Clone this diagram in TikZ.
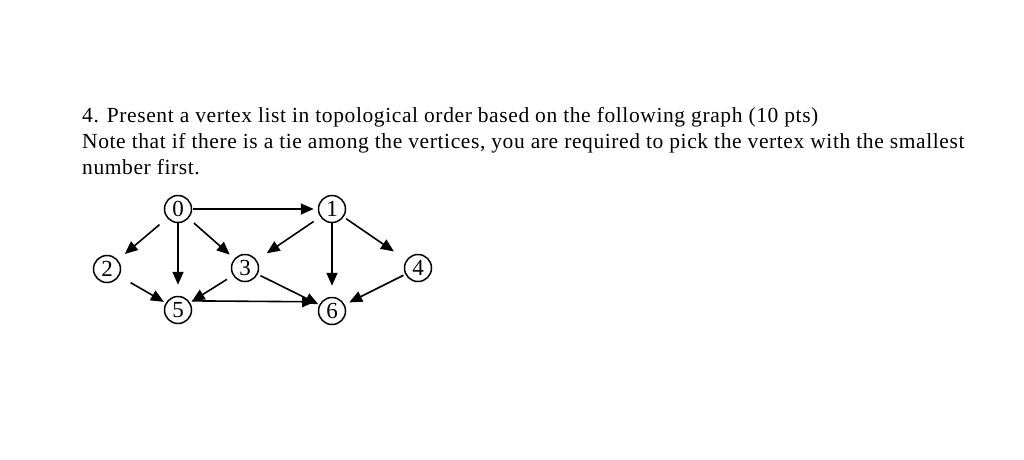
\documentclass[tikz,border=0pt]{standalone}
\usepackage{fontspec}
\setmainfont{Liberation Serif}
\newfontfamily\spaced[LetterSpace=2.8]{Liberation Serif}
\usetikzlibrary{arrows.meta}
\begin{document}
\begin{tikzpicture}[x=1pt,y=-1pt,
  txt/.style={anchor=base west,inner sep=0pt,font=\spaced\fontsize{21.5}{26}\selectfont},
  vtx/.style={circle,draw,line width=1.5pt,minimum size=27pt,inner sep=0pt,font=\fontsize{23}{26}\selectfont},
  edge/.style={line width=1.6pt,-{Triangle[length=13pt,width=11pt]}}]
\useasboundingbox (0,0) rectangle (1024,459);
\node[txt] (l1) at (82,122) {4. Present a vertex list in topological order based on the following graph (10 pts)};
\node[txt] (l2) at (82,148) {Note that if there is a tie among the vertices, you are required to pick the vertex with the smallest};
\node[txt] (l3) at (82,174) {number first.};
\node[vtx] (v0) at (178,209) {0};
\node[vtx] (v1) at (332,209) {1};
\node[vtx] (v2) at (107,269) {2};
\node[vtx] (v3) at (245,268) {3};
\node[vtx] (v4) at (418,268) {4};
\node[vtx] (v5) at (178,310) {5};
\node[vtx] (v6) at (332,311) {6};
\draw[edge,shorten <=1pt,shorten >=4pt] (v0) -- (v1);
\draw[edge,shorten <=10pt,shorten >=9pt] (v0) -- (v2);
\draw[edge,shorten <=0pt,shorten >=11pt] (v0) -- (v5);
\draw[edge,shorten <=7pt,shorten >=6pt] (v0) -- (v3);
\draw[edge,shorten <=8pt,shorten >=12pt] (v1) -- (v3);
\draw[edge,shorten <=0pt,shorten >=11pt] (v1) -- (v6);
\draw[edge,shorten <=3pt,shorten >=15pt] (v1) -- (v4);
\draw[edge,shorten <=13pt,shorten >=2pt] (v2) -- (v5);
\draw[edge,shorten <=7pt,shorten >=2pt] (v3) -- (v5);
\draw[edge,shorten <=3pt,shorten >=1pt] (v3) -- (v6);
\draw[edge,shorten <=2pt,shorten >=5pt] (v4) -- (v6);
\draw[edge,shorten <=3pt,shorten >=6pt] (v5.40) -- (v6.140);
\end{tikzpicture}
\end{document}
